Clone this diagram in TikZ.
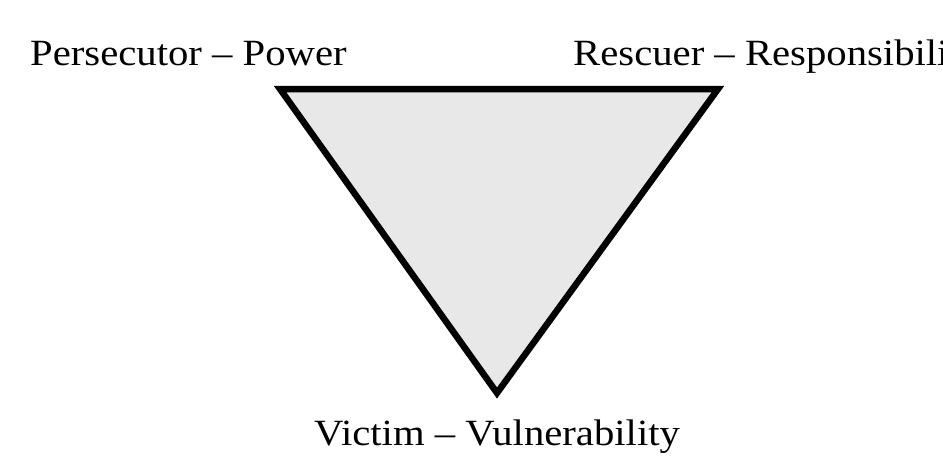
\documentclass[tikz,border=0pt]{standalone}
\usepackage{fontspec}
\setmainfont{Liberation Serif}
\begin{document}
\begin{tikzpicture}[x=1pt,y=-1pt,
  lbl/.style={inner sep=0pt,font=\fontsize{37}{40}\selectfont,xscale=1.1}]
\useasboundingbox (0,0) rectangle (943,466);
\coordinate (p) at (280,89);
\coordinate (r) at (718,89);
\coordinate (v) at (497,393);
\draw[line width=6.5pt,line join=miter,fill={rgb,255:red,232;green,232;blue,232}] (p) -- (r) -- (v) -- cycle;
\node[lbl,anchor=base west] (pt) at (30,65) {Persecutor – Power};
\node[lbl,anchor=base west] (rt) at (573,65) {Rescuer – Responsibility};
\node[lbl,anchor=base] (vt) at (497,445) {Victim – Vulnerability};
\end{tikzpicture}
\end{document}
